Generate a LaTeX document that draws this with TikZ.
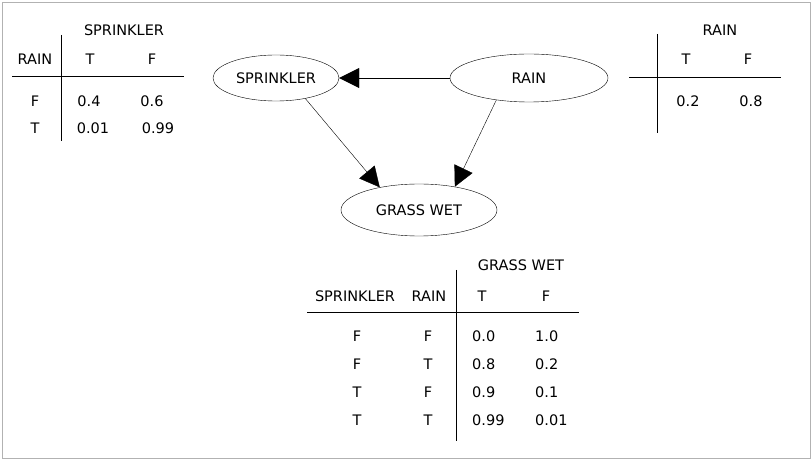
\documentclass[tikz,border=0pt]{standalone}
\usepackage{fontspec}
\setmainfont{DejaVu Sans}
\usetikzlibrary{arrows.meta, shapes.geometric}

\begin{document}
\begin{tikzpicture}[
x=1pt, y=-1pt,
every node/.style={font=\fontsize{14.5}{16}\selectfont, inner sep=0pt},
var/.style={ellipse, draw, thin, inner sep=0pt},
arrow/.style={-{Triangle[length=20pt, width=20pt]}, thin},
rule/.style={draw, thin}
]
\useasboundingbox (0,0) rectangle (812,462);
\draw[gray!60] (2,2) rectangle (810,458);

% network
\node[var, minimum width=126pt, minimum height=46pt] (sprinkler) at (276,78) {SPRINKLER};
\node[var, minimum width=158pt, minimum height=48pt] (rain) at (529,78) {RAIN};
\node[var, minimum width=156pt, minimum height=52pt] (grass) at (419,210) {GRASS WET};

\draw[arrow] (rain) -- (sprinkler);
\draw[arrow] (sprinkler.-35) -- (grass.150);
\draw[arrow] (rain.-146) -- (grass.33);

% sprinkler table
\node (sp-h) at (124,30) {SPRINKLER};
\node (sp-r) at (35,59) {RAIN};
\node (sp-t) at (90,59) {T};
\node (sp-f) at (152,59) {F};
\node (sp-1a) at (35,101) {F};
\node (sp-1b) at (89,101) {0.4};
\node (sp-1c) at (152,101) {0.6};
\node (sp-2a) at (35,128) {T};
\node (sp-2b) at (93,128) {0.01};
\node (sp-2c) at (158,128) {0.99};
\draw[rule] (12,76) -- (184,76);
\draw[rule] (61,35) -- (61,141);

% rain table
\node (ra-h) at (720,30) {RAIN};
\node (ra-t) at (686,59) {T};
\node (ra-f) at (748,59) {F};
\node (ra-1b) at (688,101) {0.2};
\node (ra-1c) at (751,101) {0.8};
\draw[rule] (629,77) -- (781,77);
\draw[rule] (657,34) -- (657,133);

% grass wet table
\node (gw-h) at (521,265) {GRASS WET};
\node (gw-s) at (355,296) {SPRINKLER};
\node (gw-r) at (429,296) {RAIN};
\node (gw-t) at (482,296) {T};
\node (gw-f) at (546,296) {F};
\foreach \s/\r/\t/\f [count=\i] in {F/F/0.0/1.0, F/T/0.8/0.2, T/F/0.9/0.1, T/T/0.99/0.01}{
  \node (gw-\i a) at (357,309+27.7*\i) {\s};
  \node (gw-\i b) at (428,309+27.7*\i) {\r};
  \node[anchor=west] (gw-\i c) at (472,309+27.7*\i) {\t};
  \node[anchor=west] (gw-\i d) at (535,309+27.7*\i) {\f};
}
\draw[rule] (307,312) -- (579,312);
\draw[rule] (456,270) -- (456,441);
\end{tikzpicture}
\end{document}
